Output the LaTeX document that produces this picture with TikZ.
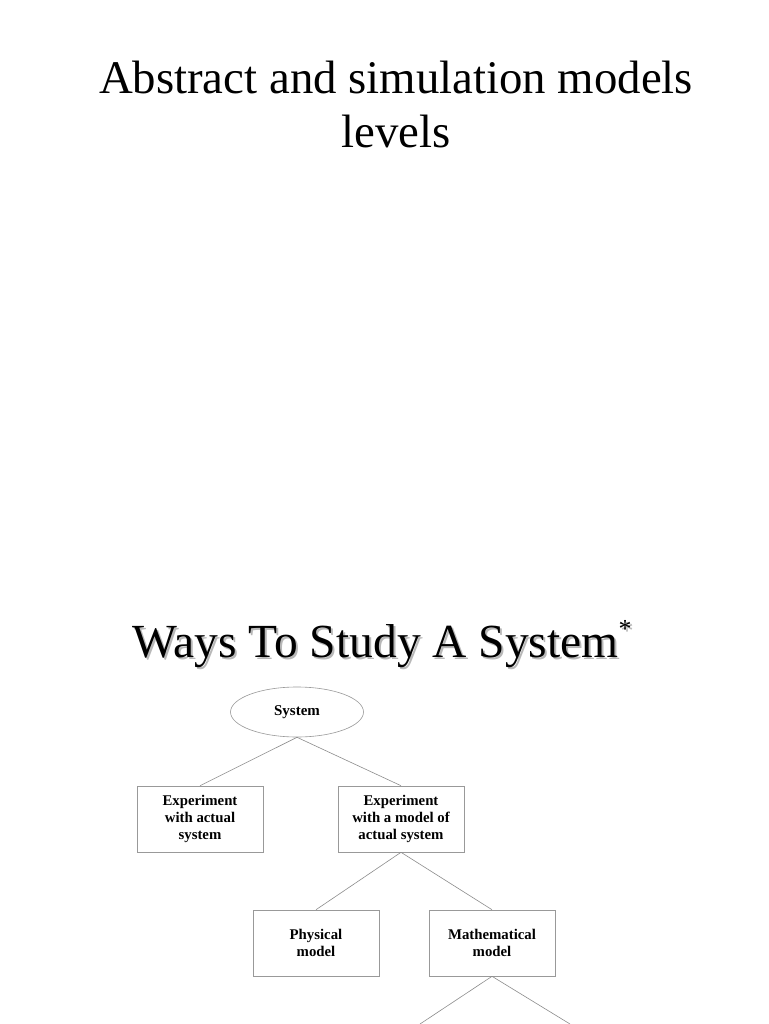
\documentclass[tikz,border=0pt]{standalone}
\usepackage{fontspec}
\setmainfont{Liberation Serif}
\usetikzlibrary{shapes.geometric}
\tikzset{
  box/.style={draw=black!40, line width=0.6pt, minimum width=126pt, minimum height=66pt, inner sep=0pt, align=center, font=\fontsize{14.8}{17}\selectfont\bfseries},
  conn/.style={draw=black!45, line width=0.6pt},
  bigtitle/.style={font=\fontsize{46.8}{54}\selectfont, align=center},
  subtitle/.style={font=\fontsize{47.5}{54}\selectfont}
}
\newcommand{\wtitle}{Ways To Study A System\raisebox{0.42em}{\fontsize{26}{26}\selectfont *}}
\begin{document}
\begin{tikzpicture}[x=1pt,y=-1pt]
\useasboundingbox[fill=white] (0,0) rectangle (768,1024);
\node[bigtitle] (title) at (396,104) {Abstract and simulation models\\levels};
\node[subtitle, text=black!28] (subshadow) at (384,646) {\wtitle};
\node[subtitle] (sub) at (382,644) {\wtitle};
\node[ellipse, draw=black!40, line width=0.6pt, minimum width=133pt, minimum height=50pt, inner sep=0pt, font=\fontsize{15}{17}\selectfont\bfseries] (sys) at (297,712) {System};
\node[box] (actual) at (200,819) {Experiment\\with actual\\system};
\node[box] (model) at (401,819) {Experiment\\with a model of\\actual system};
\node[box] (phys) at (316,943) {Physical\\model};
\node[box] (math) at (492,943) {Mathematical\\model};
\coordinate (l1) at (420,1024);
\coordinate (l2) at (570,1024);
\draw[conn] (sys.south) -- (actual.north);
\draw[conn] (sys.south) -- (model.north);
\draw[conn] (model.south) -- (phys.north);
\draw[conn] (model.south) -- (math.north);
\draw[conn] (math.south) -- (l1);
\draw[conn] (math.south) -- (l2);
\end{tikzpicture}
\end{document}
